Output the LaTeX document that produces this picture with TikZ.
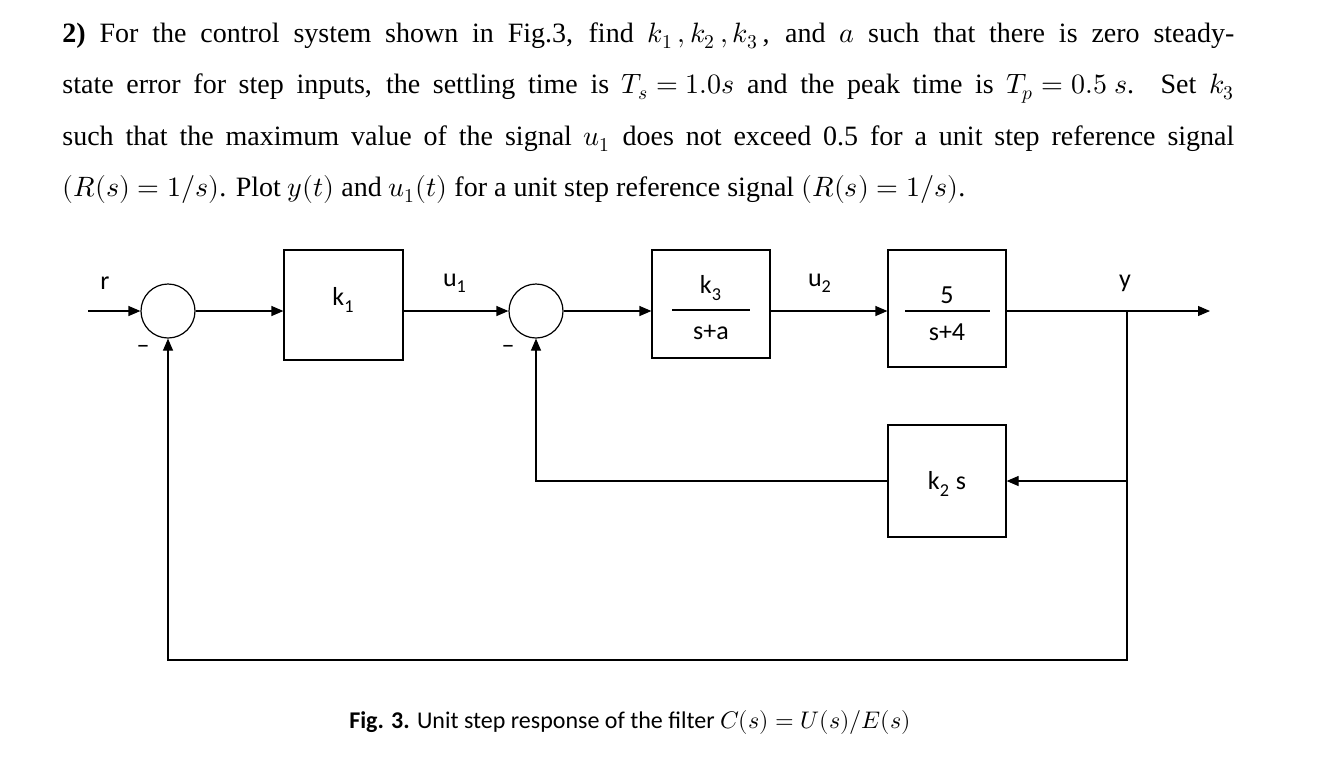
\documentclass[tikz,border=0pt]{standalone}
\usepackage{fontspec}
\usepackage{unicode-math}
\setmainfont{Liberation Serif}
\newfontfamily\calfnt{Carlito}
\usetikzlibrary{arrows.meta}
\begin{document}
\begin{tikzpicture}[x=0.5pt,y=-0.5pt,
  blk/.style={draw,line width=0.6pt},
  sum/.style={draw,circle,minimum size=27pt,inner sep=0pt,line width=0.6pt},
  ln/.style={line width=0.6pt},
  ar/.style={ln,-{Triangle[length=6pt,width=5pt]}},
  lab/.style={font=\calfnt\fontsize{13}{15}\selectfont,inner sep=0pt},
  para/.style={anchor=base west,inner sep=0pt,font=\fontsize{14}{16}\selectfont}]
\useasboundingbox (0,0) rectangle (1324,768);
\node[para] (l1) at (62,42) {\hbox to 586pt{\textbf{2)} For the control system shown in Fig.3, find ${k_1\,,k_2\,,k_3}$\,, and $a$ such that there is zero steady-}};
\node[para] (l2) at (62,93) {\hbox to 586pt{state error for step inputs, the settling time is ${T_s=1.0s}$ and the peak time is ${T_p=0.5\ s}$. Set $k_3$}};
\node[para] (l3) at (62,145) {\hbox to 586pt{such that the maximum value of the signal $u_1$ does not exceed 0.5 for a unit step reference signal}};
\node[para] (l4) at (62,196) {$(R(s)=1/s)$. Plot $y(t)$ and $u_1(t)$ for a unit step reference signal $(R(s)=1/s)$.};
% blocks
\node[sum] (s1) at (168,311) {};
\node[sum] (s2) at (536,311) {};
\node[blk,minimum width=59.5pt,minimum height=55pt] (k1) at (343.5,305) {};
\node[lab] at (343.5,300) {k\textsubscript{1}};
\node[blk,minimum width=59pt,minimum height=54pt] (g1) at (711,304) {};
\node[lab] at (711,288) {k\textsubscript{3}};
\node[lab] at (711,332) {s+a};
\draw[ln] (672,310) -- (750,310);
\node[blk,minimum width=59pt,minimum height=58.5pt] (g2) at (947,308.5) {};
\node[lab] at (947,295) {5};
\node[lab] at (947,332) {s+4};
\draw[ln] (905,311) -- (990,311);
\node[blk,minimum width=59pt,minimum height=56pt] (k2) at (947,481) {};
\node[lab] at (947,484) {k\textsubscript{2} s};
% signals
\coordinate (in) at (88,311);
\coordinate (br) at (1127,311);
\coordinate (out) at (1210,311);
\coordinate (bl) at (1127,660);
\draw[ar] (in) -- (s1);
\draw[ar] (s1) -- (k1.west|-s1);
\draw[ar] (k1.east|-s2) -- (s2);
\draw[ar] (s2) -- (g1.west|-s2);
\draw[ar] (g1.east|-s2) -- (g2.west|-s2);
\draw[ar] (g2.east|-s2) -- (out);
\draw[ar] (br) |- (k2.east);
\draw[ar] (k2.west) -| (s2.south);
\draw[ar] (br) -- (bl) -| (s1.south);
\node[lab] at (105,283) {r};
\node[lab] at (455,283) {u\textsubscript{1}};
\node[lab] at (820,283) {u\textsubscript{2}};
\node[lab] at (1125,283) {y};
\node[lab] at (143,349) {\textendash};
\node[lab] at (508,349) {\textendash};
\node[inner sep=0pt,font=\calfnt\fontsize{12}{14}\selectfont] (cap) at (630,722) {\textbf{Fig. 3.} Unit step response of the filter $C(s)=U(s)/E(s)$};
\end{tikzpicture}
\end{document}
